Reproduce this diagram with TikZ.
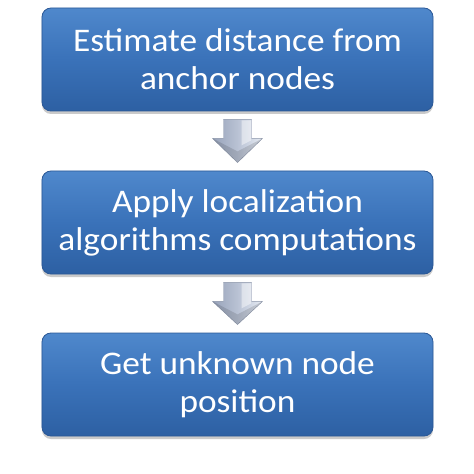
\documentclass[tikz,border=0pt]{standalone}
\usepackage{fontspec}
\setmainfont[FakeStretch=1.07]{Carlito}
\usetikzlibrary{calc,shadows}
\definecolor{boxtop}{HTML}{4F88CC}
\definecolor{boxmid}{HTML}{3A72B9}
\definecolor{boxbot}{HTML}{2D60A3}
\definecolor{boxedge}{HTML}{2B5896}
\definecolor{arrL}{HTML}{98A3BA}
\definecolor{arrM}{HTML}{B9C2D4}
\definecolor{arrR}{HTML}{E6EBF3}
\definecolor{arrEdge}{HTML}{8A94A8}
\tikzset{
  stepbox/.style={draw=boxedge, line width=0.8bp, rounded corners=9bp,
    top color=boxtop, bottom color=boxbot, middle color=boxmid,
    minimum width=391bp, minimum height=103bp, inner sep=0pt,
    text=white, align=center,
    font=\fontsize{33bp}{38bp}\selectfont,
    drop shadow={shadow xshift=0bp, shadow yshift=-3bp, opacity=0.35, fill=black!60}},
  blockarrow/.style={draw=arrEdge, line width=0.4bp, left color=arrL, right color=arrR, middle color=arrM, line join=round}
}
\begin{document}
\begin{tikzpicture}[x=1bp,y=-1bp]
\useasboundingbox (0,0) rectangle (474,474);
\node[stepbox] (a) at (237.5,59.5) {Estimate distance from\\anchor nodes};
\node[stepbox] (b) at (237.5,222.5) {Apply localization\\algorithms computations};
\node[stepbox] (c) at (237.5,384.5) {Get unknown node\\position};
\foreach \s/\t in {a/b,b/c}{
  \path[blockarrow]
    ($(\s.south)+(-14,8)$) -- ($(\s.south)+(14,8)$) --
    ($(\s.south)+(14,27)$) -- ($(\s.south)+(25,27)$) --
    ($(\t.north)+(0,-8)$) --
    ($(\s.south)+(-25,27)$) -- ($(\s.south)+(-14,27)$) -- cycle;
  \fill[white,opacity=0.45]
    ($(\s.south)+(4,9)$) -- ($(\s.south)+(13.5,9)$) -- ($(\s.south)+(13.5,29)$) -- ($(\s.south)+(4,34)$) -- cycle;
  \fill[black,opacity=0.12]
    ($(\s.south)+(-25,27)$) -- ($(\t.north)+(0,-8)$) -- ($(\s.south)+(25,27)$) -- ($(\s.south)+(0,40)$) -- cycle;
}
\end{tikzpicture}
\end{document}
